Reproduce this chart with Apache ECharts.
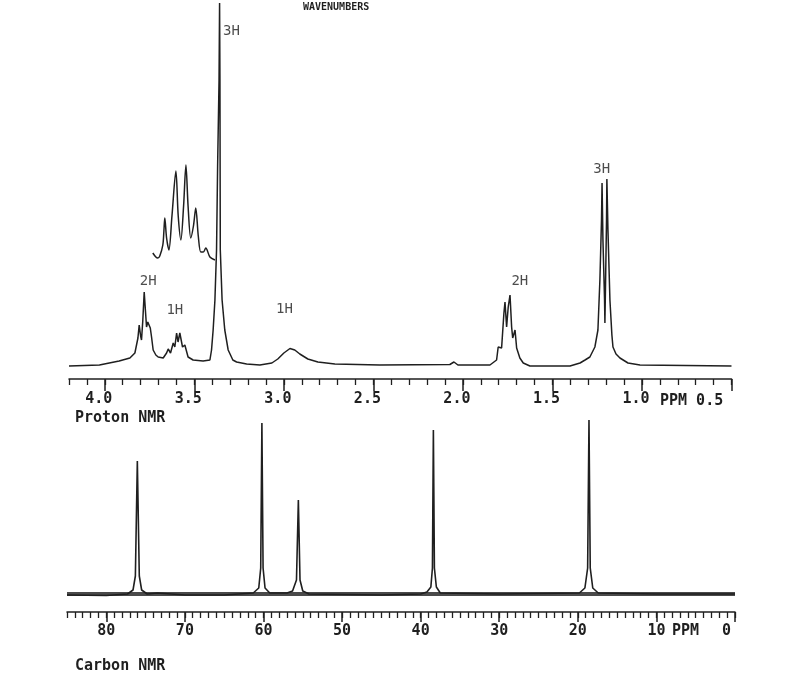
<!DOCTYPE html>
<html>
<head>
<meta charset="utf-8">
<title>Proton / Carbon NMR</title>
<script src="https://cdn.jsdelivr.net/npm/echarts@6.0.0/dist/echarts.min.js"></script>
<style>
  html, body { margin: 0; padding: 0; background: #fff; }
  #nmr { width: 795px; height: 694px; }
</style>
</head>
<body>
<div id="nmr"></div>
<script>
// proton trace, [ppm, height above baseline]
var protonTrace = [
  [4.20, 0], [4.03, 1], [3.92, 5], [3.86, 8], [3.832, 13], [3.815, 28], [3.808, 41], [3.800, 30],
  [3.795, 26], [3.788, 45], [3.780, 74], [3.773, 55], [3.767, 39], [3.760, 44], [3.753, 46],
  [3.746, 38], [3.739, 29], [3.730, 16], [3.715, 11], [3.702, 9], [3.674, 8], [3.655, 13],
  [3.646, 17], [3.633, 13], [3.618, 23], [3.609, 19], [3.599, 33], [3.591, 24], [3.581, 33],
  [3.566, 19], [3.553, 21], [3.535, 9], [3.507, 6], [3.451, 5], [3.413, 6], [3.404, 16],
  [3.395, 36], [3.385, 66], [3.376, 116], [3.370, 200], [3.362, 286], [3.359, 363], [3.357, 286],
  [3.355, 116], [3.345, 66], [3.330, 36], [3.311, 16], [3.285, 6], [3.264, 4], [3.208, 2],
  [3.134, 1], [3.067, 3], [3.034, 7], [3.000, 13], [2.966, 17.5], [2.939, 16], [2.911, 12],
  [2.866, 7], [2.810, 4], [2.715, 2], [2.464, 1], [2.073, 1.5], [2.050, 4], [2.028, 1],
  [1.849, 1], [1.812, 6], [1.803, 19], [1.793, 21], [1.784, 18], [1.771, 53], [1.765, 64],
  [1.756, 39], [1.747, 59], [1.737, 71], [1.728, 39], [1.722, 28], [1.709, 36], [1.700, 18],
  [1.682, 8], [1.663, 3], [1.626, 0], [1.402, 0], [1.346, 3], [1.318, 6], [1.291, 9],
  [1.263, 19], [1.246, 36], [1.235, 86], [1.226, 146], [1.223, 183], [1.218, 126], [1.209, 66],
  [1.207, 43], [1.204, 76], [1.198, 146], [1.196, 187], [1.190, 136], [1.179, 66], [1.168, 31],
  [1.162, 19], [1.145, 12], [1.123, 8], [1.078, 3], [1.011, 1], [0.50, 0]
];

// expanded multiplet drawn above the 3.6 ppm region
var protonInset = [
  [3.732, 113], [3.715, 109], [3.704, 108], [3.693, 110], [3.676, 121], [3.670, 135], [3.665, 148],
  [3.655, 128], [3.642, 116], [3.625, 150], [3.603, 195], [3.590, 150], [3.575, 126], [3.560, 160],
  [3.547, 201], [3.535, 160], [3.520, 128], [3.505, 140], [3.492, 158], [3.478, 130], [3.464, 114],
  [3.450, 114], [3.436, 118], [3.413, 109], [3.385, 106]
];

// integration labels [ppm, height, text]
var protonLabels = [
  [3.293, 335, '3H'], [3.758, 84.5, '2H'], [3.609, 56, '1H'],
  [2.997, 57, '1H'], [1.682, 85, '2H'], [1.225, 197, '3H']
];

// carbon trace, [ppm, height above baseline]
var carbonTrace = [
  [85, -1], [80, -1.5], [77.3, 0], [76.6, 4], [76.3, 18], [76.05, 133], [75.8, 18], [75.5, 4],
  [74.8, 0], [73.5, 1], [70, -1], [65, -1], [61.3, 1], [60.6, 6], [60.35, 26], [60.2, 171],
  [60.05, 26], [59.8, 6], [59.2, 1], [57, 1], [56.3, 3], [55.8, 14], [55.56, 94], [55.35, 14],
  [55.0, 3], [54.2, 0], [45, -1], [40, 0], [39.2, 2], [38.7, 7], [38.5, 26], [38.38, 164],
  [38.25, 26], [38.0, 7], [37.5, 1], [30, 0], [19.8, 1], [19.1, 6], [18.75, 26], [18.58, 174],
  [18.42, 26], [18.1, 6], [17.4, 1], [10, 0], [0, 0]
];

var protonMajor = [4.0, 3.5, 3.0, 2.5, 2.0, 1.5, 1.0, 0.5];
var protonLabelTicks = [4.0, 3.5, 3.0, 2.5, 2.0, 1.5, 1.0];
var carbonMajor = [80, 70, 60, 50, 40, 30, 20, 10, 0];
var carbonLabelTicks = [80, 70, 60, 50, 40, 30, 20, 10];

var protonMinor = [];
for (var i = 5; i <= 42; i++) protonMinor.push(i / 10);
var carbonMinor = [];
for (var j = 0; j <= 85; j++) carbonMinor.push(j);

var ink = '#1f1f1f';
var mono = '"DejaVu Sans Mono", monospace';

function majorAxis(grid, min, max, major, labels, tickLen, margin, pad, digits) {
  return {
    type: 'value', gridIndex: grid, position: 'bottom', inverse: true, min: min, max: max,
    splitLine: { show: false },
    axisLine: { show: true, onZero: false, lineStyle: { color: ink, width: 1.5 } },
    axisTick: { show: true, length: tickLen, customValues: major, lineStyle: { color: ink, width: 1.5 } },
    axisLabel: {
      show: true, customValues: labels, margin: margin, color: ink, fontFamily: mono, fontSize: 15,
      fontWeight: 'bold', padding: pad,
      formatter: function (v) { return v.toFixed(digits); }
    }
  };
}

function minorAxis(grid, min, max, minor, tickLen) {
  return {
    type: 'value', gridIndex: grid, position: 'bottom', inverse: true, min: min, max: max,
    splitLine: { show: false },
    axisLine: { show: false, onZero: false },
    axisTick: { show: true, length: tickLen, customValues: minor, lineStyle: { color: ink, width: 1.3 } },
    axisLabel: { show: false }
  };
}

var chart = echarts.init(document.getElementById('nmr'));
chart.setOption({
  animation: false,
  backgroundColor: '#fff',
  grid: [
    { left: 69, right: 63.5, top: 0, height: 379 },
    { left: 67, right: 60, top: 414, height: 198 }
  ],
  xAxis: [
    majorAxis(0, 0.5, 4.2, protonMajor, protonLabelTicks, 12, 13, [0, 12, 0, 0], 1),
    minorAxis(0, 0.5, 4.2, protonMinor, 6),
    majorAxis(1, 0, 85, carbonMajor, carbonLabelTicks, 10, 12, 0, 0),
    minorAxis(1, 0, 85, carbonMinor, 6)
  ],
  yAxis: [
    { type: 'value', gridIndex: 0, min: -13, max: 366, show: false },
    { type: 'value', gridIndex: 1, min: -18, max: 180, show: false }
  ],
  graphic: [
    { type: 'text', left: 660, top: 394, style: { text: 'PPM 0.5', font: 'bold 15px ' + mono, fill: ink } },
    { type: 'text', left: 75, top: 411, style: { text: 'Proton NMR', font: 'bold 15px ' + mono, fill: ink } },
    { type: 'text', left: 672, top: 624, style: { text: 'PPM', font: 'bold 15px ' + mono, fill: ink } },
    { type: 'text', left: 722, top: 624, style: { text: '0', font: 'bold 15px ' + mono, fill: ink } },
    { type: 'text', left: 75, top: 659, style: { text: 'Carbon NMR', font: 'bold 15px ' + mono, fill: ink } },
    { type: 'text', left: 303, top: 2, style: { text: 'WAVENUMBERS', font: 'bold 10px ' + mono, fill: ink } }
  ],
  series: [
    {
      name: 'proton', type: 'line', xAxisIndex: 0, yAxisIndex: 0, data: protonTrace,
      showSymbol: false, lineStyle: { color: ink, width: 1.5 }
    },
    {
      name: 'proton inset', type: 'line', xAxisIndex: 0, yAxisIndex: 0, data: protonInset,
      showSymbol: false, smooth: 0.3, lineStyle: { color: ink, width: 1.5 }
    },
    {
      name: 'labels', type: 'scatter', xAxisIndex: 0, yAxisIndex: 0, data: protonLabels,
      symbolSize: 1, itemStyle: { color: 'rgba(0,0,0,0)' },
      label: {
        show: true, position: 'inside', color: ink, fontFamily: mono, fontSize: 14,
        formatter: function (p) { return p.value[2]; }
      }
    },
    {
      name: 'carbon noise band', type: 'line', xAxisIndex: 2, yAxisIndex: 1,
      data: [[85, 0], [0, 0]], showSymbol: false, lineStyle: { color: '#4a4a4a', width: 4 }
    },
    {
      name: 'carbon', type: 'line', xAxisIndex: 2, yAxisIndex: 1, data: carbonTrace,
      showSymbol: false, lineStyle: { color: ink, width: 1.6 }
    }
  ]
});
</script>
</body>
</html>
